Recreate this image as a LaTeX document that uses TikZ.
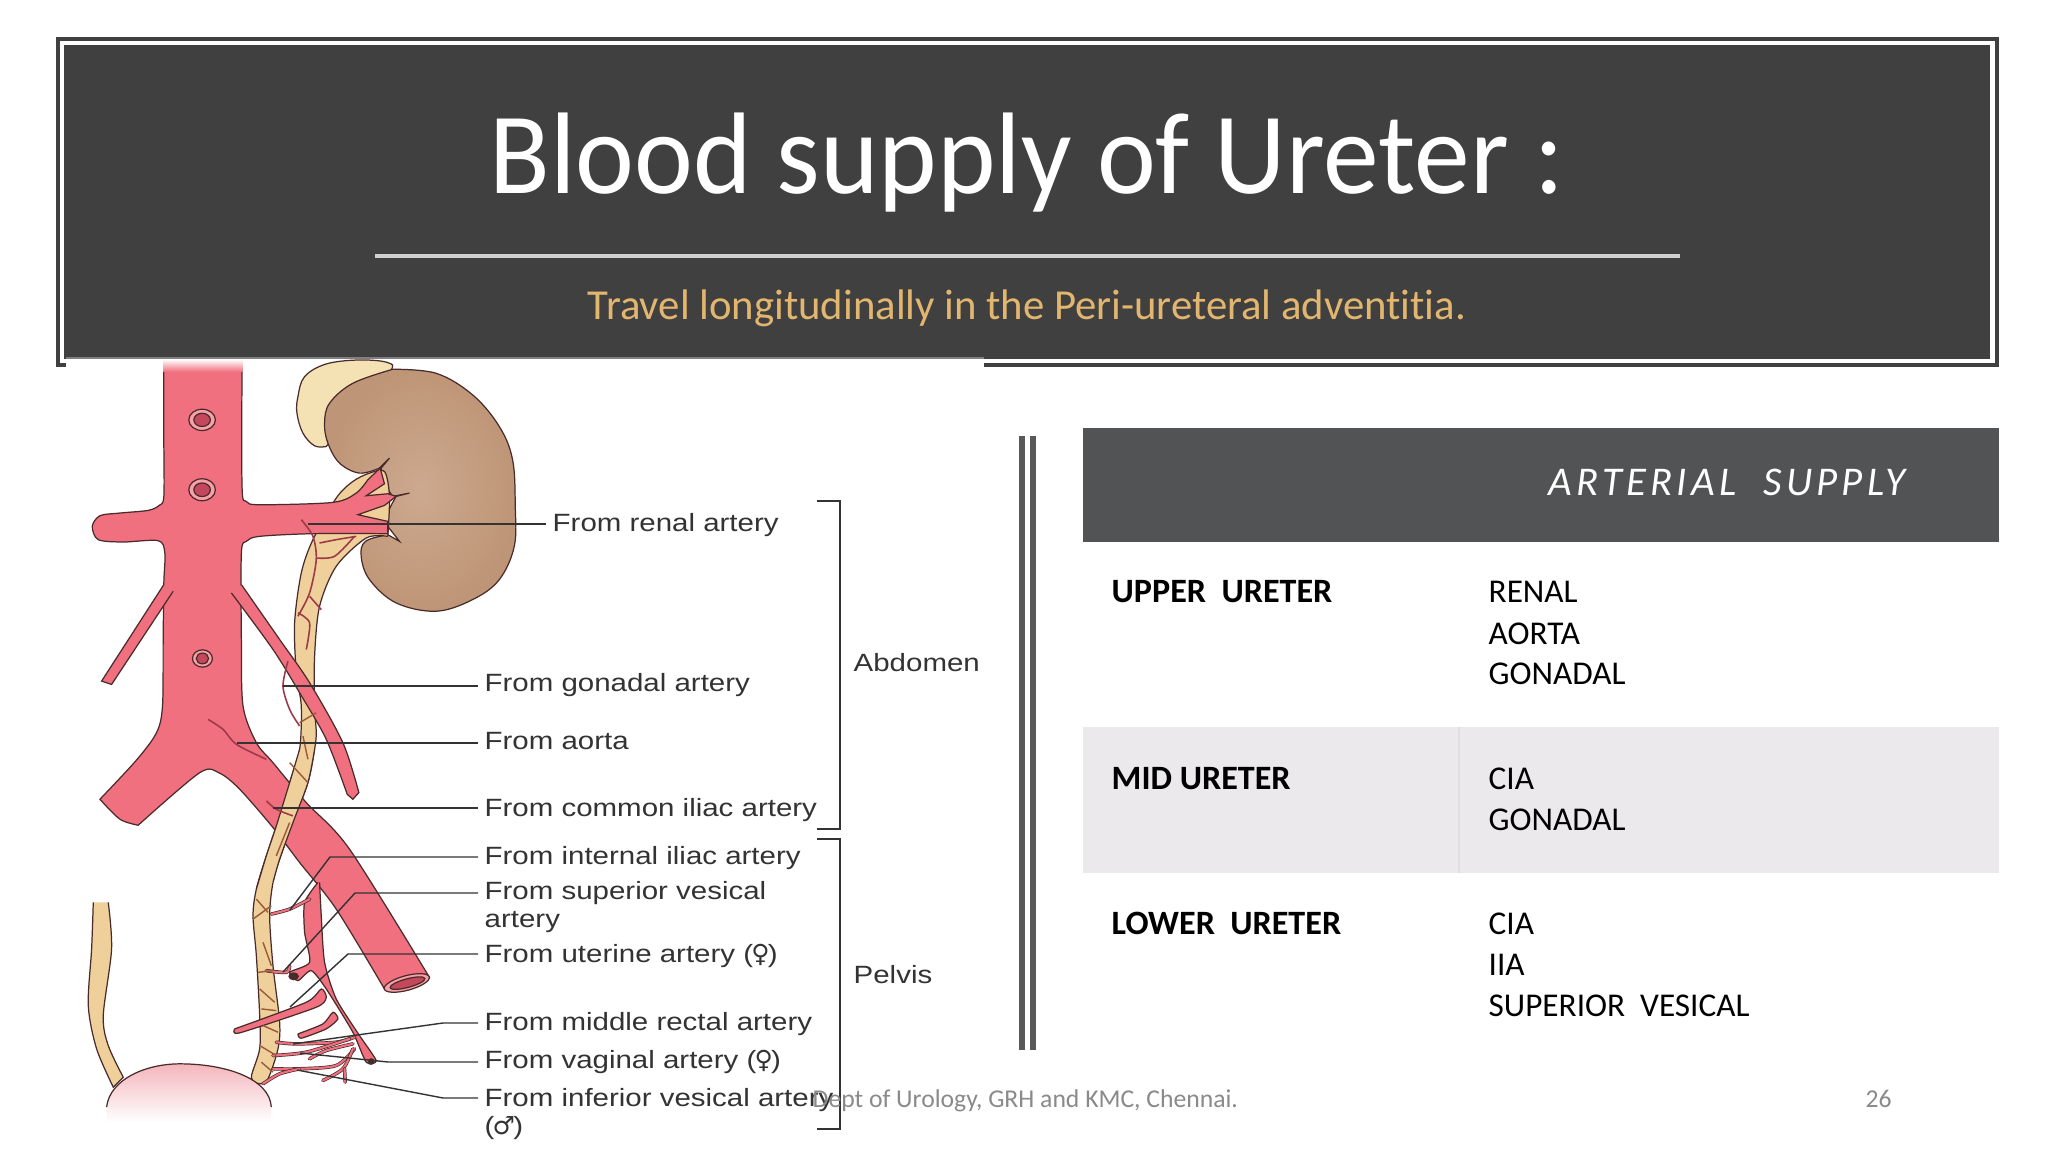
\documentclass[tikz,border=0pt]{standalone}
\usepackage{fontspec}
\setmainfont[Ligatures=NoCommon]{Carlito}
\newfontfamily\titlefont[FakeStretch=0.96]{Carlito}
\newfontfamily\labelfont[FakeStretch=1.18]{Liberation Sans}
\newfontfamily\sexfont{DejaVu Sans}
\newfontfamily\headfont[LetterSpace=10.5]{Carlito}
\definecolor{bandgray}{HTML}{404040}
\definecolor{headgray}{HTML}{515355}
\definecolor{rowgray}{HTML}{EBE9EC}
\definecolor{subgold}{HTML}{E2B66F}
\definecolor{barlgray}{HTML}{595959}
\definecolor{footgray}{HTML}{8A8A8A}
\definecolor{inkdark}{HTML}{333333}
\definecolor{artpink}{HTML}{F0707F}
\definecolor{artlight}{HTML}{F7A0A8}
\definecolor{artdeep}{HTML}{C4485C}
\definecolor{edgedark}{HTML}{4A2B2B}
\definecolor{uretan}{HTML}{EFCF9A}
\definecolor{adrenal}{HTML}{F5E2B4}
\definecolor{kidmid}{HTML}{CDA98F}
\definecolor{kidout}{HTML}{BE9576}
\definecolor{wrapbrown}{HTML}{9A5A3A}
\newcommand{\bloodrun}[2]{\draw[#1] plot[smooth] coordinates {#2};}
\newcommand{\sexmark}[1]{(\kern-.5pt{\sexfont #1}\kern-.5pt)}
\begin{document}
\begin{tikzpicture}[x=0.01cm, y=-0.01cm]
    % Define styles
    \tikzset{
        celltext/.style={anchor=base west, inner sep=0pt, font=\fontsize{9.45}{12}\selectfont, text=black},
        cellhead/.style={celltext, font=\fontsize{9.7}{12}\selectfont\bfseries},
        lab/.style={anchor=base west, inner xsep=1.7pt, inner ysep=0pt, align=left, text=inkdark, font=\labelfont\fontsize{7.1}{7.9}\selectfont},
        leader/.style={draw=inkdark, line width=0.4pt},
        brack/.style={draw=inkdark, line width=0.6pt},
        outline/.style={draw=edgedark, line width=0.35pt},
        vessel/.style={draw=edgedark, line width=0.2pt, double=artpink, double distance=0.6pt, line cap=round},
        thinred/.style={draw=artdeep!80!black, line width=0.45pt},
        wrapline/.style={draw=wrapbrown, line width=0.4pt},
    }
    \useasboundingbox (0,0) rectangle (2048,1152);
    \fill[white] (0,0) rectangle (2048,1152);

    % Title band
    \draw[bandgray, line width=1.3pt] (58,39) rectangle (1997,365);
    \fill[bandgray] (64,45) rectangle (1990,359);
    \node[anchor=base, inner sep=0pt, text=white, font=\titlefont\fontsize{33}{40}\selectfont] (title) at (1027,194) {Blood supply of Ureter :};
    \fill[white] (66,359) rectangle (984,1152);
    \fill[gray] (66,357) rectangle (984,359);
    \draw[black!18, line width=0.9pt] (375,256) -- (1680,256);
    \node[anchor=base, inner sep=0pt, text=subgold, font=\fontsize{12.15}{14}\selectfont] (subtitle) at (1027,320) {Travel longitudinally in the Peri-ureteral adventitia.};

    % Double bar
    \fill[barlgray] (1019,436) rectangle (1025,1050);
    \fill[barlgray] (1030,436) rectangle (1036,1050);

    % Table
    \fill[headgray] (1083,428) rectangle (1999,542);
    \fill[rowgray] (1083,727) rectangle (1999,873);
    \draw[black!12, line width=0.3pt] (1459,727) -- (1459,873);
    \node[anchor=base west, inner sep=0pt, text=white, font=\headfont\itshape\fontsize{11.6}{14}\selectfont] (suphead) at (1548,495) {ARTERIAL\ \ SUPPLY};
    \node[cellhead] (upper) at (1111,603) {UPPER\ \ URETER};
    \node[celltext] (renal) at (1488,603) {RENAL};
    \node[celltext] (aorta) at (1488,644) {AORTA};
    \node[celltext] (gonad) at (1488,685) {GONADAL};
    \node[cellhead] (mid) at (1111,789) {MID URETER};
    \node[celltext] (midcia) at (1488,789) {CIA};
    \node[celltext] (midgon) at (1488,830) {GONADAL};
    \node[cellhead] (lower) at (1111,934) {LOWER\ \ URETER};
    \node[celltext] (lowcia) at (1488,934) {CIA};
    \node[celltext] (lowiia) at (1488,975) {IIA};
    \node[celltext] (lowsup) at (1488,1016) {SUPERIOR\ \ VESICAL};

    % Anatomy
    \begin{scope}[shift={(60,340)}, x=0.0033333cm, y=-0.0033333cm]
        % Suprarenal and kidney
        \draw[outline, fill=adrenal] plot[smooth, tension=.6] coordinates {(800,320) (765,318) (730,280) (712,220) (715,170) (735,110) (800,72) (900,60) (985,68) (992,95) (900,200) (800,320)};
        \draw[outline, inner color=kidmid, outer color=kidout] plot[smooth, tension=.6] coordinates {(1000,88) (1130,100) (1240,165) (1320,260) (1360,360) (1368,500) (1365,620) (1320,720) (1240,780) (1130,815) (1010,790) (930,720) (905,650) (918,605) (985,585)}
            -- (1020,605) -- (985,560) -- plot[smooth, tension=.6] coordinates {(985,560) (985,520) (1010,470)} -- (1050,460) -- (1000,470) -- plot[smooth, tension=.6] coordinates {(1000,470) (975,430) (965,385)} -- (990,355)
            -- (960,385) -- plot[smooth, tension=.6] coordinates {(960,385) (900,400) (840,370) (805,310) (795,250) (810,190) (880,130) (1000,88)};

        % Ureter, whole length
        \draw[outline, fill=uretan] plot[smooth, tension=.5] coordinates {(985,590) (920,595) (830,680) (780,800) (765,950) (765,1100) (770,1180) (765,1230) (745,1330) (700,1450) (660,1560) (640,1630) (630,1730) (640,1880) (660,2050) (655,2130) (625,2220) (600,2235) (575,2215) (600,2130) (600,2030) (590,1850) (580,1730) (590,1650) (620,1550) (650,1460) (690,1330) (720,1230) (725,1100) (710,1000) (705,850) (725,700) (760,600) (830,475) (880,425) (930,400) (975,395) (990,470) (985,590)};

        % Aorta with renal and iliac branches
        \draw[outline, fill=artpink] plot[smooth, tension=.5] coordinates {(312,65) (312,300) (312,470) (298,497) (265,512) (180,520) (120,528) (97,560) (115,600) (190,607) (295,603) (315,640) (312,730) (310,900) (308,1100) (290,1180) (230,1262) (120,1380)}
            -- plot[smooth, tension=.5] coordinates {(120,1380) (180,1440) (235,1458)}
            -- plot[smooth, tension=.5] coordinates {(235,1458) (420,1300) (480,1302) (540,1350) (640,1465) (720,1570) (830,1710) (975,1950)}
            -- (1110,1915)
            -- plot[smooth, tension=.5] coordinates {(1110,1915) (870,1530) (740,1390) (640,1270) (590,1210) (550,1100) (545,900) (545,640) (560,605) (600,590) (760,582) (985,582)}
            -- (985,545) -- (895,525) -- (975,497) -- (1010,470) -- (985,462) -- (920,468) -- (975,432) -- (962,385) -- (925,420)
            -- plot[smooth, tension=.5] coordinates {(925,420) (890,460) (820,488) (600,495) (560,485) (547,440) (547,65)} -- cycle;
        \shade[left color=artpink, middle color=artlight, right color=artpink] (335,75) rectangle (525,1150);
        \shade[top color=white, bottom color=artpink] (310,58) rectangle (549,95);
        \foreach \cx/\cy/\rx/\ry in {427/240/40/32, 427/450/40/33, 428/957/30/26} {
            \draw[outline, fill=artlight] (\cx,\cy) ellipse ({\rx} and {\ry});
            \draw[outline, fill=artdeep] (\cx,\cy) ellipse ({\rx*0.62} and {\ry*0.62});
        }
        \draw[outline, fill=artlight, rotate around={15:(1042,1932)}] (1042,1932) ellipse (70 and 22);
        \draw[outline, fill=artdeep, rotate around={15:(1042,1932)}] (1044,1933) ellipse (54 and 13);

        % Ureter over the iliac
        \fill[uretan] plot[smooth, tension=.5] coordinates {(765,1230) (745,1330) (700,1450) (660,1560) (640,1630)} -- plot[smooth, tension=.5] coordinates {(590,1650) (620,1550) (650,1460) (690,1330) (720,1230)} -- cycle;
        \draw[outline] plot[smooth, tension=.5] coordinates {(765,1230) (745,1330) (700,1450) (660,1560) (640,1630)};
        \draw[outline] plot[smooth, tension=.5] coordinates {(590,1650) (620,1550) (650,1460) (690,1330) (720,1230)};

        % Gonadal arteries
        \draw[outline, fill=artpink] (340,755) -- (155,1035) -- (125,1025) -- (312,735);
        \draw[outline, fill=artpink] plot[smooth, tension=.5] coordinates {(545,735) (660,900) (750,1030) (850,1210) (898,1360)} -- (880,1380) -- (863,1365) -- plot[smooth, tension=.5] coordinates {(863,1365) (800,1200) (720,1060) (640,930) (515,760)};

        % Internal iliac and its branches
        \draw[outline, fill=artpink] plot[smooth, tension=.4] coordinates {(775,1630) (735,1690) (735,1780) (750,1870) (690,1900) (715,1925) (755,1895) (800,1950) (880,2080) (920,2170) (950,2165) (900,2090) (830,1980) (795,1870) (785,1730) (780,1630)};
        \fill[edgedark] (702,1912) ellipse (16 and 12);
        \draw[outline, fill=artpink] plot[smooth, tension=.4] coordinates {(525,2070) (540,2082) (770,2005) (800,1975) (785,1950) (740,1990) (525,2070)};
        \draw[outline, fill=artpink] plot[smooth, tension=.4] coordinates {(715,2085) (725,2098) (800,2070) (835,2040) (820,2020) (790,2055) (715,2085)};
        \bloodrun{vessel}{(650,2110) (710,2115) (830,2110) (885,2095)}
        \bloodrun{vessel}{(640,2150) (740,2140) (870,2100)}
        \bloodrun{vessel}{(750,2160) (800,2135) (880,2115)}
        \bloodrun{vessel}{(640,2190) (720,2190) (830,2180) (885,2130)}
        \bloodrun{vessel}{(790,2225) (850,2190) (880,2130)}
        \bloodrun{vessel}{(857,2230) (855,2190)}
        \bloodrun{vessel}{(610,2235) (660,2205) (720,2190)}
        \bloodrun{vessel}{(635,1725) (690,1710) (750,1680)}
        \bloodrun{vessel}{(620,1895) (680,1900) (690,1880)}
        \fill[edgedark] (935,2168) circle (10);

        % Vessels on the ureter
        \bloodrun{thinred}{(725,540) (760,590) (770,660) (750,760) (715,830)}
        \bloodrun{thinred}{(770,655) (825,650) (885,590)}
        \bloodrun{thinred}{(780,610) (830,600) (890,590)}
        \bloodrun{thinred}{(750,770) (785,810)}
        \bloodrun{thinred}{(715,820) (750,850) (740,930)}
        \bloodrun{thinred}{(685,965) (670,1040) (690,1110) (720,1160)}
        \bloodrun{thinred}{(445,1140) (490,1170) (530,1215) (620,1260)}
        \bloodrun{thinred}{(620,1385) (650,1410) (700,1430)}
        \foreach \ax/\ay/\bx/\by in {720/1150/770/1120, 730/1190/745/1260, 690/1270/745/1330, 690/1450/650/1550, 590/1680/625/1720, 580/1740/635/1700, 610/1810/635/1880, 595/1900/640/1895, 600/1950/645/1990, 605/2010/650/2015, 610/2060/655/2080, 600/2120/650/2150, 605/2170/640/2200}
            \draw[wrapline] (\ax,\ay) -- (\bx,\by);

        % Left ureter and bladder
        \draw[outline, fill=uretan] plot[smooth, tension=.5] coordinates {(145,1690) (155,1830) (130,2030) (145,2120) (190,2215)} -- (160,2245) -- plot[smooth, tension=.5] coordinates {(160,2245) (110,2130) (85,2000) (95,1830) (100,1690)};
        \shade[top color=artlight!70!rowgray, bottom color=white] (140,2305) .. controls (150,2220) and (260,2175) .. (360,2175) .. controls (500,2175) and (630,2220) .. (635,2305) -- (632,2350) -- (142,2350) -- cycle;
        \draw[outline] (140,2305) .. controls (150,2220) and (260,2175) .. (360,2175) .. controls (500,2175) and (630,2220) .. (635,2305);
    \end{scope}

    % Labels
    \node[lab] (renallab) at (546,532) {From renal artery};
    \node[lab] (gonlab) at (478,692) {From gonadal artery};
    \node[lab] (aortalab) at (478,749) {From aorta};
    \node[lab] (cialab) at (478,816) {From common iliac artery};
    \node[lab] (iialab) at (478,864) {From internal iliac artery};
    \node[lab] (svlab) at (478,927) {From superior vesical\\artery};
    \node[lab] (utlab) at (478,962) {From uterine artery \sexmark{♀}};
    \node[lab] (mrlab) at (478,1030) {From middle rectal artery};
    \node[lab] (vaglab) at (478,1068.5) {From vaginal artery \sexmark{♀}};
    \node[lab] (ivlab) at (478,1134) {From inferior vesical artery\\\sexmark{♂}};
    \node[lab, inner xsep=0pt] (abdlab) at (853,671) {Abdomen};
    \node[lab, inner xsep=0pt] (pellab) at (853,983) {Pelvis};

    % Leaders
    \coordinate (renalend) at (308,524);
    \coordinate (gonend) at (283,686);
    \coordinate (aortaend) at (237,743);
    \coordinate (ciaend) at (273,808);
    \coordinate (iiaend) at (290,910);
    \coordinate (iiabend) at (330,857);
    \coordinate (svend) at (283,972);
    \coordinate (svbend) at (355,893);
    \coordinate (utend) at (290,1007);
    \coordinate (utbend) at (348,954);
    \coordinate (mrend) at (293,1044);
    \coordinate (mrbend) at (443,1023);
    \coordinate (vagend) at (300,1053);
    \coordinate (vagbend) at (388,1062);
    \coordinate (ivend) at (297,1070);
    \coordinate (ivbend) at (443,1098);
    \draw[leader] (renalend) -- (renalend -| renallab.west);
    \draw[leader, line width=0.65pt] (gonend) -- (gonend -| gonlab.west);
    \draw[leader] (aortaend) -- (aortaend -| aortalab.west);
    \draw[leader] (ciaend) -- (ciaend -| cialab.west);
    \draw[leader] (iiaend) -- (iiabend) -- (iiabend -| iialab.west);
    \draw[leader] (svend) -- (svbend) -- (svbend -| svlab.west);
    \draw[leader] (utend) -- (utbend) -- (utbend -| utlab.west);
    \draw[leader] (mrend) -- (mrbend) -- (mrbend -| mrlab.west);
    \draw[leader] (vagend) -- (vagbend) -- (vagbend -| vaglab.west);
    \draw[leader] (ivend) -- (ivbend) -- (ivbend -| ivlab.west);

    % Brackets
    \coordinate (abdtop) at (817,501);
    \coordinate (abdbot) at (817,829);
    \coordinate (peltop) at (817,839);
    \coordinate (pelbot) at (817,1129);
    \draw[brack] (abdtop) -- ++(23,0) |- (abdbot);
    \draw[brack] (peltop) -- ++(23,0) |- (pelbot);

    % Footer
    \node[anchor=base west, inner sep=0pt, text=footgray, font=\fontsize{7.3}{9}\selectfont] (footer) at (812,1107) {Dept of Urology, GRH and KMC, Chennai.};
    \node[anchor=base west, inner sep=0pt, text=footgray, font=\fontsize{7.3}{9}\selectfont] (pagenum) at (1865,1107) {26};
\end{tikzpicture}
\end{document}
